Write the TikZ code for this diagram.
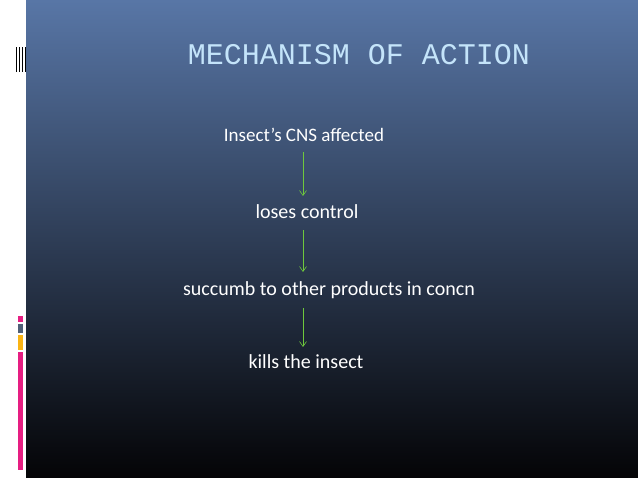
\documentclass[tikz,border=0pt]{standalone}
\usepackage{fontspec}
\setmainfont{Carlito}
\setmonofont{Liberation Mono}
\usetikzlibrary{arrows.meta}
\definecolor{bgtop}{RGB}{88,118,166}
\definecolor{bgbot}{RGB}{4,4,6}
\definecolor{titlec}{RGB}{196,228,250}
\definecolor{arr}{RGB}{110,200,60}
\definecolor{pinkc}{RGB}{230,30,130}
\definecolor{grayc}{RGB}{80,96,120}
\definecolor{yelc}{RGB}{250,180,20}
\tikzset{txt/.style={text=white,font=\fontsize{20}{24}\selectfont,inner sep=0pt},
flow/.style={draw=arr,line width=0.6pt,-{Straight Barb[length=5pt,width=7pt]}}}
\begin{document}
\begin{tikzpicture}[x=1pt,y=-1pt]
\useasboundingbox (0,0) rectangle (638,478);
\fill[white] (0,0) rectangle (26,478);
\shade[top color=bgtop,bottom color=bgbot] (26,0) rectangle (638,478);
\foreach \x in {15.5,18.5,21.5,24.5} \fill[black] (\x,47) rectangle ++(1.5,25);
\fill[pinkc] (18,316) rectangle (23,322);
\fill[grayc] (18,324) rectangle (23,333);
\fill[yelc] (18,335) rectangle (23,350);
\fill[pinkc] (18,352) rectangle (23,470);
\node[text=titlec,font=\ttfamily\fontsize{30}{34}\selectfont,inner sep=0pt] (t) at (359,55) {MECHANISM OF ACTION};
\node[txt,font=\fontsize{19}{22}\selectfont] (a) at (304,135) {Insect’s CNS affected};
\node[txt] (b) at (307,212) {loses control};
\node[txt] (c) at (329,290) {succumb to other products in concn};
\node[txt] (d) at (306,362) {kills the insect};
\draw[flow] (303,152) -- (303,196);
\draw[flow] (303,230) -- (303,272);
\draw[flow] (303,308) -- (303,347);
\end{tikzpicture}
\end{document}
